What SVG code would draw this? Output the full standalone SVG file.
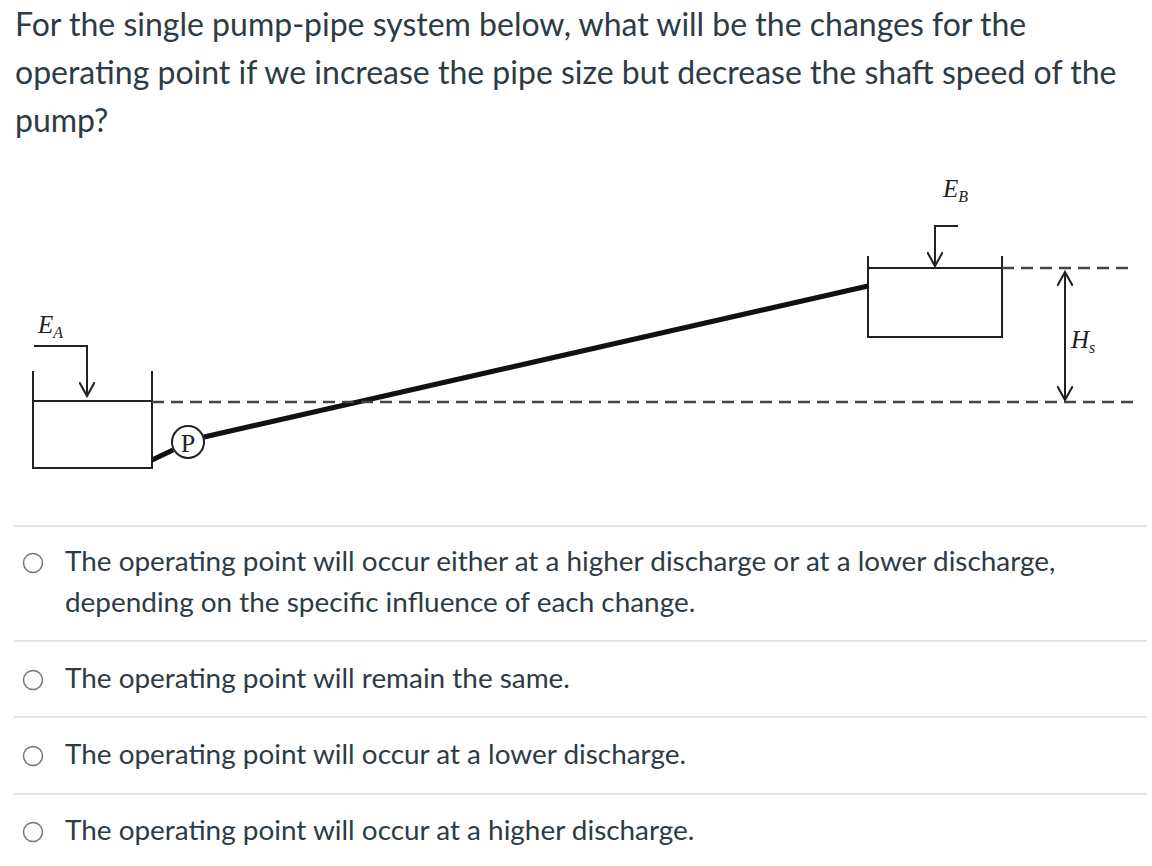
<svg xmlns="http://www.w3.org/2000/svg" width="1152" height="866" viewBox="0 0 1152 866">
<style>
.q{font-family:Lato,"Liberation Sans",sans-serif;font-size:32px;fill:#2d3b45}
.o{font-family:Lato,"Liberation Sans",sans-serif;font-size:27.9px;fill:#2d3b45}
.lab{font-family:"Liberation Serif",serif;font-style:italic;font-size:25px;fill:#222}
.sub{font-size:16px}
.ln{stroke:#222;stroke-width:2;fill:none}
.dash{stroke:#444;stroke-width:2.5;stroke-dasharray:12,7;fill:none}
.sep{stroke:#dcdcdc;stroke-width:1.5}
.rad{fill:#fff;stroke:#777;stroke-width:1.5}
</style>
<defs><marker id="ah" viewBox="0 0 10 10" refX="9" refY="5" markerWidth="8" markerHeight="8" orient="auto-start-reverse"><path d="M0,0 L9,5 L0,10" fill="none" stroke="#222" stroke-width="1.3"/></marker></defs>
<rect width="1152" height="866" fill="#fff"/>
<text class="q" x="15" y="36">For the single pump-pipe system below, what will be the changes for the</text>
<text class="q" x="15" y="84">operating point if we increase the pipe size but decrease the shaft speed of the</text>
<text class="q" x="15" y="132">pump?</text>
<g id="tankA"><path class="ln" d="M33,371 V468 H152 V371"/><line class="ln" x1="33" y1="401" x2="152" y2="401"/></g>
<g id="tankB"><path class="ln" d="M868,256 V337 H1002 V256"/><line class="ln" x1="868" y1="268" x2="1002" y2="268"/></g>
<g id="pump"><circle cx="188" cy="442" r="16" fill="#fff" stroke="#222" stroke-width="2"/><text x="188" y="452" text-anchor="middle" font-family="Liberation Serif,serif" font-size="26" fill="#222">P</text></g>
<g id="connectors">
<line x1="152" y1="460" x2="173" y2="450" stroke="#111" stroke-width="5"/>
<line x1="204" y1="437" x2="868" y2="286" stroke="#111" stroke-width="5"/>
<line class="dash" x1="152" y1="402" x2="1140" y2="402"/>
<line class="dash" x1="1002" y1="268" x2="1135" y2="268"/>
<path class="ln" d="M34,346 H87 V396" marker-end="url(#ah)"/>
<path class="ln" d="M958,226 H935 V266" marker-end="url(#ah)"/>
<line class="ln" x1="1065" y1="272" x2="1065" y2="400" marker-start="url(#ah)" marker-end="url(#ah)"/>
</g>
<text class="lab" x="38" y="333">E<tspan class="sub" dy="5">A</tspan></text>
<text class="lab" x="943" y="197">E<tspan class="sub" dy="5">B</tspan></text>
<text class="lab" x="1071" y="348">H<tspan class="sub" dy="5">s</tspan></text>
<line class="sep" x1="14" y1="526" x2="1147" y2="526"/>
<line class="sep" x1="14" y1="641" x2="1147" y2="641"/>
<line class="sep" x1="14" y1="717" x2="1147" y2="717"/>
<line class="sep" x1="14" y1="794" x2="1147" y2="794"/>
<circle class="rad" cx="33" cy="563" r="9.5"/>
<text class="o" x="65" y="571">The operating point will occur either at a higher discharge or at a lower discharge,</text>
<text class="o" x="65" y="612">depending on the specific influence of each change.</text>
<circle class="rad" cx="33" cy="680" r="9.5"/>
<text class="o" x="65" y="688">The operating point will remain the same.</text>
<circle class="rad" cx="33" cy="756" r="9.5"/>
<text class="o" x="65" y="764">The operating point will occur at a lower discharge.</text>
<circle class="rad" cx="33" cy="832" r="9.5"/>
<text class="o" x="65" y="840">The operating point will occur at a higher discharge.</text>
</svg>
